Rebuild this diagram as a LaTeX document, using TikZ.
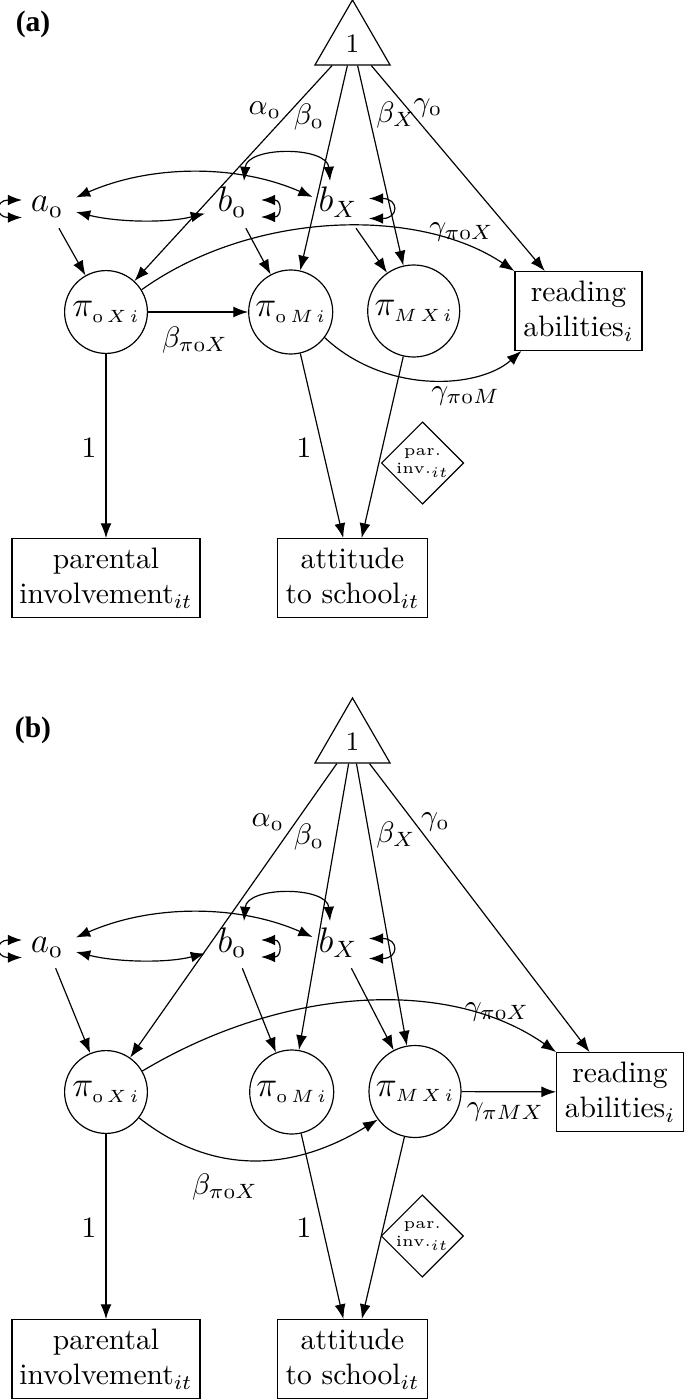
\documentclass[tikz,border=0pt]{standalone}
\usepackage{fontspec}
\newfontfamily\panelfont{Liberation Serif}
\usetikzlibrary{shapes.geometric,arrows.meta,calc}
\newcommand{\myzero}{\mathnormal{0}}
\begin{document}
\begin{tikzpicture}[x=0.338pt,y=-0.338pt,
  lat/.style={circle,draw,line width=0.4pt,inner sep=0pt,font=\large},
  obs/.style={rectangle,draw,line width=0.4pt,align=center,inner sep=0pt,minimum height=26.6pt},
  var/.style={inner sep=3.5pt,font=\large,anchor=base},
  const/.style={regular polygon,regular polygon sides=3,draw,line width=0.4pt,inner sep=0pt,minimum size=29.3pt,font=\small},
  dia/.style={diamond,draw,line width=0.4pt,inner sep=0pt,minimum width=26.4pt,minimum height=26.4pt,align=center,font=\fontsize{5.3}{6}\selectfont},
  lab/.style={inner sep=0pt},
  panel/.style={inner sep=0pt,font=\panelfont\bfseries\fontsize{10}{11}\selectfont},
  con/.style={-{Latex[length=5pt,width=3.7pt]},line width=0.4pt},
  cov/.style={{Latex[length=4.8pt,width=3.6pt]}-{Latex[length=4.8pt,width=3.6pt]},line width=0.4pt},
]
\useasboundingbox (0,0) rectangle (685,1399);

% ================= panel (a) =================
\node[panel] (pa) at (33,24) {(a)};
\node[const] (Ta) at (352.5,43.3) {1};
\node[var] (a0a) at (47,212) {$a_{\myzero}$};
\node[var] (b0a) at (232,212) {$b_{\myzero}$};
\node[var] (bxa) at (338,212) {$b_{X}$};
\node[lat,minimum size=28pt] (p0xa) at (106,312) {$\pi_{\scriptscriptstyle\myzero\mkern3mu X\mkern3mu i}$};
\node[lat,minimum size=28.4pt] (p0ma) at (290.7,312) {$\pi_{\scriptscriptstyle\myzero\mkern3mu M\mkern3mu i}$};
\node[lat,minimum size=31.1pt] (pmxa) at (413.7,311) {$\pi_{\scriptscriptstyle M\mkern3mu X\mkern3mu i}$};
\node[obs,minimum width=42.9pt] (rda) at (578.5,311) {reading\\abilities$_i$};
\node[obs,minimum width=63.5pt] (pia) at (106,578) {parental\\involvement$_{it}$};
\node[obs,minimum width=50.8pt] (ata) at (352.5,578) {attitude\\to school$_{it}$};
\node[dia] (dga) at (422.5,463) {par.\\inv.$_{it}$};

\draw[con] (Ta) -- (p0xa);
\draw[con] (Ta) -- (p0ma);
\draw[con] (Ta) -- (pmxa);
\draw[con] (Ta) -- (rda);
\draw[con] (a0a) -- (p0xa);
\draw[con] (b0a) -- (p0ma);
\draw[con] (bxa) -- (pmxa);
\draw[con] (p0xa) -- (p0ma);
\draw[con] (p0xa) -- (pia);
\draw[con] (p0ma) -- (ata);
\draw[con] (pmxa) -- (ata);
\draw[con] (p0xa.32) .. controls +(112,-80) and +(-95,-64) .. (rda.north west);
\draw[con] (p0ma.-37.5) .. controls +(61,57) and +(-43,38) .. (rda.-145);

\draw[cov] ($(a0a.base)+(-25,-12)$) .. controls +(-27,0) and +(-27,0) .. ($(a0a.base)+(-25,5.5)$);
\draw[cov] ($(b0a.base)+(29,-12)$) .. controls +(21,0) and +(21,0) .. ($(b0a.base)+(29,5)$);
\draw[cov] ($(bxa.base)+(31,-13.5)$) .. controls +(30,0) and +(30,0) .. ($(bxa.base)+(31,6.5)$);
\draw[cov] ($(a0a.base)+(29,-14.5)$) .. controls +(75,-33) and +(-75,-33) .. ($(bxa.base)+(-25.5,-15)$);
\draw[cov] ($(a0a.base)+(29,0)$) .. controls +(40,10) and +(-40,10) .. ($(b0a.base)+(-27,1.5)$);
\draw[cov] ($(b0a.base)+(12,-31)$) .. controls +(3,-35) and +(-3,-35) .. ($(bxa.base)+(-8,-31)$);

\node[lab] (la1) at (265,110) {$\alpha_{\myzero}$};
\node[lab] (la2) at (309,117) {$\beta_{\myzero}$};
\node[lab] (la3) at (396,115) {$\beta_{X}$};
\node[lab] (la4) at (428,108) {$\gamma_{\myzero}$};
\node[lab] (la5) at (461.5,232) {$\gamma_{\pi\myzero X}$};
\node[lab] (la6) at (195,340) {$\beta_{\pi\myzero X}$};
\node[lab] (la7) at (465.5,396) {$\gamma_{\pi\myzero M}$};
\node[lab] (la8) at (89,448) {1};
\node[lab] (la9) at (304,448) {1};

% ================= panel (b) =================
\node[panel] (pb) at (33,730) {(b)};
\node[const] (Tb) at (352.5,741.3) {1};
\node[var] (a0b) at (47,952) {$a_{\myzero}$};
\node[var] (b0b) at (232,952) {$b_{\myzero}$};
\node[var] (bxb) at (338,952) {$b_{X}$};
\node[lat,minimum size=28pt] (p0xb) at (106,1092) {$\pi_{\scriptscriptstyle\myzero\mkern3mu X\mkern3mu i}$};
\node[lat,minimum size=28.4pt] (p0mb) at (291.7,1092) {$\pi_{\scriptscriptstyle\myzero\mkern3mu M\mkern3mu i}$};
\node[lat,minimum size=31.1pt] (pmxb) at (415,1091.5) {$\pi_{\scriptscriptstyle M\mkern3mu X\mkern3mu i}$};
\node[obs,minimum width=42.8pt] (rdb) at (620,1092) {reading\\abilities$_i$};
\node[obs,minimum width=63.5pt] (pib) at (106,1359) {parental\\involvement$_{it}$};
\node[obs,minimum width=50.8pt] (atb) at (352.5,1359) {attitude\\to school$_{it}$};
\node[dia] (dgb) at (422.3,1236) {par.\\inv.$_{it}$};

\draw[con] (Tb) -- (p0xb);
\draw[con] (Tb) -- (p0mb);
\draw[con] (Tb) -- (pmxb);
\draw[con] (Tb) -- (rdb);
\draw[con] (a0b) -- (p0xb);
\draw[con] (b0b) -- (p0mb);
\draw[con] (bxb) -- (pmxb);
\draw[con] (pmxb) -- (rdb);
\draw[con] (p0xb) -- (pib);
\draw[con] (p0mb) -- (atb);
\draw[con] (pmxb) -- (atb);
\draw[con] (p0xb.30) .. controls +(142,-85) and +(-107,-75) .. (rdb.north west);
\draw[con] (p0xb.-38) .. controls +(70,55) and +(-90,55) .. (pmxb.-143);

\draw[cov] ($(a0b.base)+(-25,-12)$) .. controls +(-27,0) and +(-27,0) .. ($(a0b.base)+(-25,5.5)$);
\draw[cov] ($(b0b.base)+(29,-12)$) .. controls +(21,0) and +(21,0) .. ($(b0b.base)+(29,5)$);
\draw[cov] ($(bxb.base)+(31,-13.5)$) .. controls +(30,0) and +(30,0) .. ($(bxb.base)+(31,6.5)$);
\draw[cov] ($(a0b.base)+(29,-14.5)$) .. controls +(75,-33) and +(-75,-33) .. ($(bxb.base)+(-25.5,-15)$);
\draw[cov] ($(a0b.base)+(29,0)$) .. controls +(40,10) and +(-40,10) .. ($(b0b.base)+(-27,1.5)$);
\draw[cov] ($(b0b.base)+(12,-31)$) .. controls +(3,-35) and +(-3,-35) .. ($(bxb.base)+(-8,-31)$);

\node[lab] (lb1) at (268,822) {$\alpha_{\myzero}$};
\node[lab] (lb2) at (309,837) {$\beta_{\myzero}$};
\node[lab] (lb3) at (396,835) {$\beta_{X}$};
\node[lab] (lb4) at (435.5,822) {$\gamma_{\myzero}$};
\node[lab] (lb5) at (497,1012) {$\gamma_{\pi\myzero X}$};
\node[lab] (lb6) at (505.5,1112) {$\gamma_{\pi M X}$};
\node[lab] (lb7) at (225,1187) {$\beta_{\pi\myzero X}$};
\node[lab] (lb8) at (89,1228) {1};
\node[lab] (lb9) at (304,1228) {1};
\end{tikzpicture}
\end{document}
